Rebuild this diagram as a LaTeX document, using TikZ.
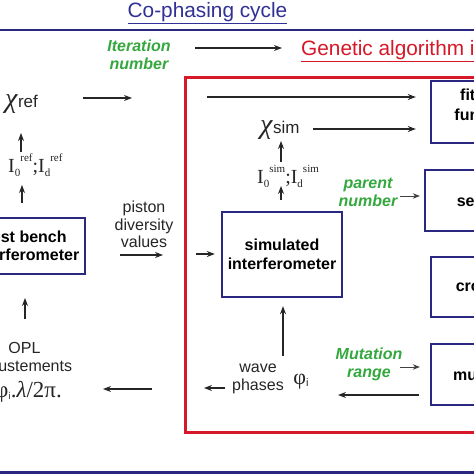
\documentclass[tikz,border=0pt]{standalone}
\usepackage{fontspec}
\setmainfont{Liberation Sans}
\newfontfamily\serifF{Liberation Serif}
\usetikzlibrary{arrows.meta}
\definecolor{navy}{RGB}{42,40,128}
\definecolor{cycblue}{RGB}{48,48,150}
\definecolor{gred}{RGB}{214,24,40}
\definecolor{ggreen}{RGB}{52,168,62}
\newcommand\IntSym[3]{I\raisebox{-4.5pt}{\fontsize{11}{11}\selectfont #1}\raisebox{11pt}{\fontsize{11}{11}\selectfont #2}#3}
\begin{document}
\begin{tikzpicture}[x=1pt,y=-1pt,
  arr/.style={-{Stealth[length=8pt,width=6pt]}, line width=1.2pt, black!85},
  thinarr/.style={-{Stealth[length=7pt,width=5.5pt]}, line width=0.8pt, black!75},
  gabox/.style={draw=navy, line width=2.4pt, align=center, inner sep=0pt,
    font=\fontsize{16}{18.5}\selectfont\bfseries},
  lbl/.style={font=\fontsize{16}{17.5}\selectfont, align=center, inner sep=0pt, text=black!85},
  glbl/.style={font=\fontsize{16}{18}\selectfont\bfseries\itshape, text=ggreen, align=center, inner sep=0pt},
  big/.style={font=\fontsize{20.8}{22}\selectfont, inner sep=0pt},
  sym/.style={inner sep=0pt, text=black!85},
]
\useasboundingbox (0,0) rectangle (474,474);
\fill[white] (0,0) rectangle (474,474);

% titles and frame lines
\node[big, text=cycblue, anchor=base] (cyc) at (207.5,17) {\underline{Co-phasing cycle}};
\draw[navy, line width=2.6pt] (-5,30) -- (480,30);
\draw[navy, line width=3pt] (-5,472.5) -- (480,472.5);
\node[big, text=gred, anchor=base west] (ga) at (301,55) {\underline{Genetic algorithm iterations}};
\node[glbl] (iter) at (139,54.5) {Iteration\\number};

% red GA frame
\draw[gred, line width=3pt] (185,77.5) rectangle (540,432);

% boxes
\node[gabox, minimum width=120pt, minimum height=56pt] (tb) at (25,246) {Test bench\\interferometer};
\node[gabox, minimum width=120pt, minimum height=85pt] (sim) at (282,254.5) {simulated\\interferometer};
\node[gabox, minimum width=110pt, minimum height=62pt] (fit) at (486,112) {};
\node[font=\fontsize{16}{20}\selectfont\bfseries, align=center, inner sep=0pt] (fitT) at (486,105) {fitness\\function};
\node[gabox, minimum width=133pt, minimum height=61pt] (sel) at (491.5,200.5) {selection};
\node[gabox, minimum width=126pt, minimum height=60pt] (cro) at (494,287) {crossover};
\node[gabox, minimum width=112pt, minimum height=61pt] (mut) at (487,374.5) {mutation};

% symbols
\node[sym, anchor=base west] (xref) at (5,107) {{\serifF\itshape\fontsize{28}{28}\selectfont χ}\hspace{0.5pt}{\fontsize{17}{17}\selectfont ref}};
\node[sym, anchor=base west] (xsim) at (260,133) {{\serifF\itshape\fontsize{28}{28}\selectfont χ}\hspace{0.5pt}{\fontsize{17}{17}\selectfont sim}};
\node[sym, anchor=base west, font=\serifF\fontsize{20}{20}\selectfont] (iref) at (8,172) {\IntSym{0}{ref}{;}\IntSym{d}{ref}{}};
\node[sym, anchor=base west, font=\serifF\fontsize{20}{20}\selectfont] (isim) at (257,183) {\IntSym{0}{sim}{;}\IntSym{d}{sim}{}};

% labels
\node[lbl] (pist) at (144,224.5) {piston\\diversity\\values};
\node[glbl] (par) at (368,192) {parent\\number};
\node[glbl] (mutr) at (369,364) {Mutation\\range};
\node[lbl] (wave) at (258,379) {wave\\phases};
\node[sym] (phii) at (301,382) {{\serifF\fontsize{22}{22}\selectfont φ}{\fontsize{11}{11}\selectfont\raisebox{-2pt}{i}}};
\node[lbl] (opl) at (24.5,358.5) {OPL\\adjustements};
\node[sym, anchor=base east, font=\serifF\fontsize{23}{23}\selectfont] (form) at (62,397) {φ{\fontsize{11}{11}\selectfont\raisebox{-2pt}{\sffamily i}}.{\itshape λ}/2π.};

% free-end coordinates
\coordinate (c1s) at (195,48);   \coordinate (c1e) at (282,48);
\coordinate (c2s) at (83,98);    \coordinate (c2e) at (132,98);
\coordinate (c3s) at (207,97);
\coordinate (c4s) at (313,129);
\coordinate (c5s) at (120,255);  \coordinate (c5e) at (163,255);
\coordinate (c6s) at (196,254);
\coordinate (c7s) at (283,356);
\coordinate (c8s) at (225,388);  \coordinate (c8e) at (204,388);
\coordinate (c9e) at (338,395);
\coordinate (c10s) at (152,389); \coordinate (c10e) at (103,389);
\coordinate (c11s) at (25,319);  \coordinate (c11e) at (25,298);

% connectors
\draw[arr] (c1s) -- (c1e);
\draw[arr] (c2s) -- (c2e);
\draw[arr, shorten >=14pt] (c3s) -- (c3s -| fit.west);
\draw[arr, shorten >=14pt] (c4s) -- (c4s -| fit.west);
\draw[arr] (21,152) -- (21,133);
\draw[arr] (22,203) -- (22,185);
\draw[arr] (281,162) -- (281,141);
\draw[arr, shorten <=11pt] (281,0 |- sim.north) -- (281,186);
\draw[arr] (c5s) -- (c5e);
\draw[arr, shorten >=6pt] (c6s) -- (c6s -| sim.west);
\draw[arr, shorten >=8pt] (c7s) -- (c7s |- sim.south);
\draw[arr] (c8s) -- (c8e);
\draw[arr, shorten <=11pt] (c9e -| mut.west) -- (c9e);
\draw[arr] (c10s) -- (c10e);
\draw[arr] (c11s) -- (c11e);
\draw[thinarr, shorten >=4pt] (400,196) -- (400,196 -| sel.west);
\draw[thinarr, shorten >=10pt] (400,367) -- (400,367 -| mut.west);
\end{tikzpicture}
\end{document}
